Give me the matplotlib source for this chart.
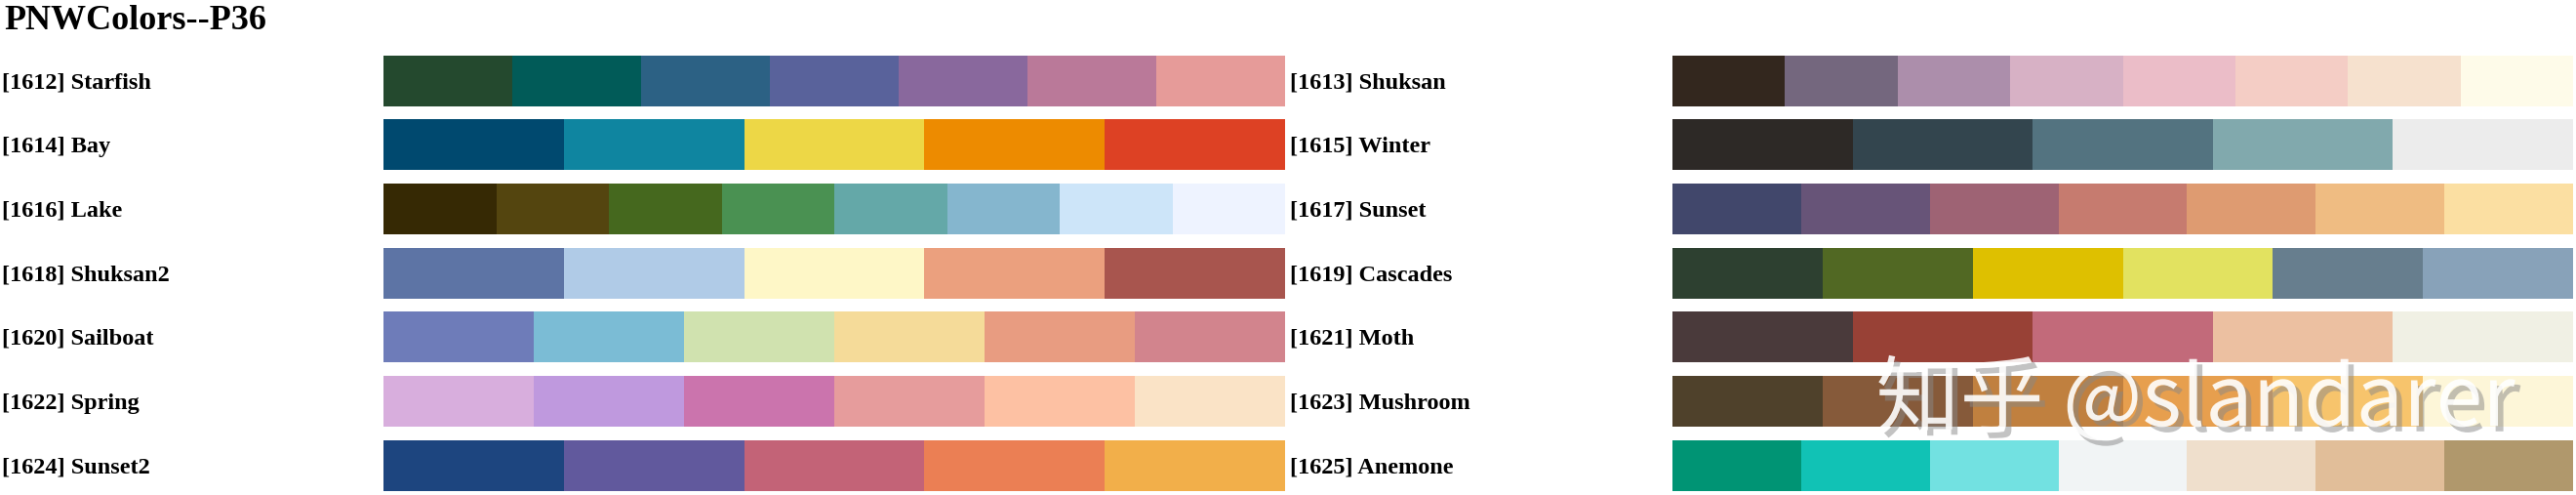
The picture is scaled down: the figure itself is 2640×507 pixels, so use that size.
import matplotlib
matplotlib.use("Agg")
import matplotlib.pyplot as plt
import matplotlib.patheffects as pe

title = "PNWColors--P36"
names = ["[1612] Starfish", "[1613] Shuksan", "[1614] Bay", "[1615] Winter",
         "[1616] Lake", "[1617] Sunset", "[1618] Shuksan2", "[1619] Cascades",
         "[1620] Sailboat", "[1621] Moth", "[1622] Spring", "[1623] Mushroom",
         "[1624] Sunset2", "[1625] Anemone"]
palettes = [
    ["#24492e", "#015b58", "#2c6184", "#59629b", "#89689d", "#ba7999", "#e69b99"],
    ["#33271e", "#74677e", "#ac8eab", "#d7b1c5", "#ebbdc8", "#f4cdc5", "#f6e1ce", "#fefbe9"],
    ["#00496f", "#0f85a0", "#edd746", "#ed8b00", "#dd4124"],
    ["#2d2926", "#33454e", "#537380", "#81a9ad", "#ececec"],
    ["#362904", "#54450f", "#45681e", "#4a9152", "#64a8a8", "#85b6ce", "#cde5f9", "#eef3ff"],
    ["#41476b", "#675478", "#9e6374", "#c67b6f", "#de9b71", "#efbc82", "#fbdfa2"],
    ["#5d74a5", "#b0cbe7", "#fef7c7", "#eba07e", "#a8554e"],
    ["#2d4030", "#516823", "#dec000", "#e2e260", "#677e8e", "#88a2b9"],
    ["#6e7cb9", "#7bbcd5", "#d0e2af", "#f5db99", "#e89c81", "#d2848d"],
    ["#4a3a3b", "#984136", "#c26a7a", "#ecc0a1", "#f0f0e4"],
    ["#d8aedd", "#bf99de", "#cb74ad", "#e69c9c", "#fdc1a3", "#fae3c6"],
    ["#4f412b", "#865a3a", "#c0803f", "#e79f4e", "#f7c46c", "#fdf6d8"],
    ["#1d457f", "#61599d", "#c36377", "#eb7f54", "#f2af4a"],
    ["#009474", "#11c2b5", "#72e1e1", "#f1f4f5", "#efdfcc", "#e1be99", "#b0986c"],
]

W, H = 2640, 507
fig = plt.figure(figsize=(W / 100, H / 100), dpi=100)
ax = fig.add_axes([0, 0, 1, 1])
ax.set_xlim(0, W)
ax.set_ylim(H, 0)
ax.axis("off")

serif = ["Liberation Serif", "DejaVu Serif"]
ax.text(4, 22, title, fontsize=26, fontweight="bold", family=serif,
        va="center", ha="left")

row_y0 = 82.5
row_dy = 65.7
bh = 52
cols = [(2, 393, 1317), (1322, 1714, 2637)]
for i, (name, pal) in enumerate(zip(names, palettes)):
    r, c = divmod(i, 2)
    lx, x0, x1 = cols[c]
    yc = row_y0 + r * row_dy
    ax.text(lx, yc + 2, name, fontsize=17.5, fontweight="bold", family=serif, va="center", ha="left")
    n = len(pal)
    w = (x1 - x0) / n
    ax.barh([yc] * n, [w] * n, left=[x0 + k * w for k in range(n)], height=bh,
            color=pal, edgecolor="none", linewidth=0)

ax.text(2250, 412, "知乎 @slandarer", fontsize=62, color="white", alpha=0.9,
        family=["Noto Sans CJK SC", "DejaVu Sans"], va="center", ha="center",
        path_effects=[pe.withSimplePatchShadow(offset=(4, -4), shadow_rgbFace="#888888", alpha=0.5)])

fig.savefig("out.png", dpi=100)
